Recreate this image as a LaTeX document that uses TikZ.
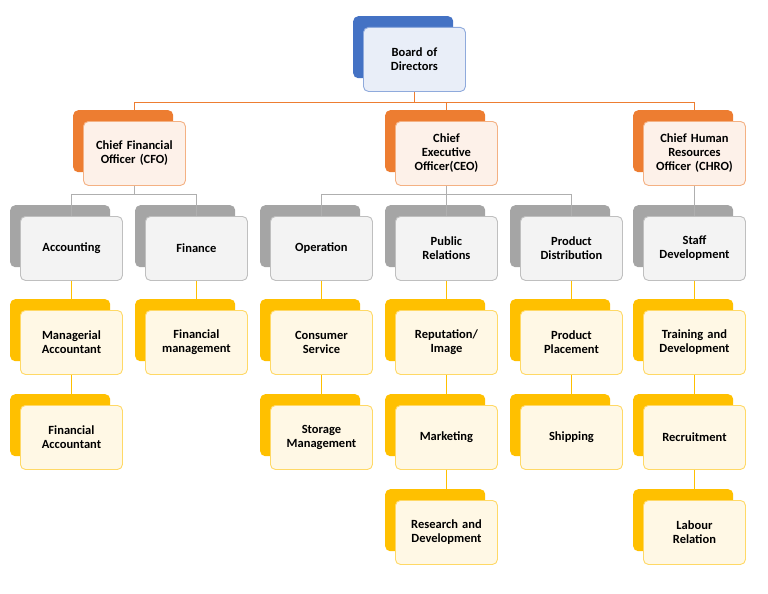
\documentclass[tikz,border=0pt]{standalone}
\usepackage{fontspec}
\setmainfont{Carlito}
\begin{document}
\begin{tikzpicture}[x=1pt,y=-1pt,
  font=\fontsize{12.5}{14}\selectfont\bfseries,
  back/.style={rounded corners=5pt,minimum width=100pt,minimum height=62pt,anchor=north west,inner sep=0pt},
  front/.style={rounded corners=5pt,minimum width=102pt,minimum height=64pt,anchor=north west,align=center,text width=96pt,inner sep=0pt,line width=0.9pt},
  bl/.style={back,fill=blue!60!cyan!40!black!0,fill={rgb,255:red,68;green,114;blue,196}},
  blf/.style={front,draw={rgb,255:red,143;green,170;blue,220},fill={rgb,255:red,233;green,238;blue,248}},
  ob/.style={back,fill={rgb,255:red,237;green,125;blue,49}},
  obf/.style={front,draw={rgb,255:red,244;green,177;blue,131},fill={rgb,255:red,253;green,241;blue,233}},
  gb/.style={back,fill={rgb,255:red,165;green,165;blue,165}},
  gbf/.style={front,draw={rgb,255:red,191;green,191;blue,191},fill={rgb,255:red,243;green,243;blue,243}},
  yb/.style={back,fill={rgb,255:red,255;green,192;blue,0}},
  ybf/.style={front,draw={rgb,255:red,255;green,217;blue,102},fill={rgb,255:red,255;green,248;blue,229}},
  oline/.style={draw={rgb,255:red,237;green,125;blue,49},line width=0.8pt},
  gline/.style={draw={rgb,255:red,175;green,175;blue,175},line width=0.8pt},
  yline/.style={draw={rgb,255:red,255;green,192;blue,0},line width=0.8pt}]
\useasboundingbox (0,0) rectangle (768,594);
\newcommand{\obox}[5]{\node[#1] (#2b) at (#3,#4) {};\node[#1f] (#2) at (#3+10,#4+11) {#5};}
\obox{bl}{board}{353}{16}{Board of\\Directors}
\obox{ob}{cfo}{73}{110}{Chief Financial\\Officer (CFO)}
\obox{ob}{ceo}{385}{110}{Chief\\Executive\\Officer(CEO)}
\obox{ob}{chro}{633}{110}{Chief Human\\Resources\\Officer (CHRO)}
\obox{gb}{acc}{10}{205}{Accounting}
\obox{gb}{fin}{135}{205}{Finance}
\obox{gb}{ope}{260}{205}{Operation}
\obox{gb}{pr}{385}{205}{Public\\Relations}
\obox{gb}{pd}{510}{205}{Product\\Distribution}
\obox{gb}{sd}{633}{205}{Staff\\Development}
\obox{yb}{ma}{10}{299}{Managerial\\Accountant}
\obox{yb}{fa}{10}{394}{Financial\\Accountant}
\obox{yb}{fm}{135}{299}{Financial\\management}
\obox{yb}{cs}{260}{299}{Consumer\\Service}
\obox{yb}{sm}{260}{394}{Storage\\Management}
\obox{yb}{ri}{385}{299}{Reputation/\\Image}
\obox{yb}{mk}{385}{394}{Marketing}
\obox{yb}{rd}{385}{489}{Research and\\Development}
\obox{yb}{pp}{510}{299}{Product\\Placement}
\obox{yb}{sh}{510}{394}{Shipping}
\obox{yb}{td}{633}{299}{Training and\\Development}
\obox{yb}{rc}{633}{394}{Recruitment}
\obox{yb}{lr}{633}{489}{Labour\\Relation}
\draw[oline] (board.south) -- ++(0,10) coordinate (h1);
\draw[oline] (h1) -| (cfo.north);
\draw[oline] (h1) -| (ceo.north);
\draw[oline] (h1) -| (chro.north);
\draw[gline] (cfo.south) -- ++(0,8) coordinate (h2);
\draw[gline] (h2) -| (acc.north);
\draw[gline] (h2) -| (fin.north);
\draw[gline] (ceo.south) -- ++(0,8) coordinate (h3);
\draw[gline] (h3) -| (ope.north);
\draw[gline] (h3) -- (pr.north);
\draw[gline] (h3) -| (pd.north);
\draw[gline] (chro.south) -- (sd.north);
\draw[yline] (acc.south) -- (ma.north);
\draw[yline] (ma.south) -- (fa.north);
\draw[yline] (fin.south) -- (fm.north);
\draw[yline] (ope.south) -- (cs.north);
\draw[yline] (cs.south) -- (sm.north);
\draw[yline] (pr.south) -- (ri.north);
\draw[yline] (ri.south) -- (mk.north);
\draw[yline] (mk.south) -- (rd.north);
\draw[yline] (pd.south) -- (pp.north);
\draw[yline] (pp.south) -- (sh.north);
\draw[yline] (sd.south) -- (td.north);
\draw[yline] (td.south) -- (rc.north);
\draw[yline] (rc.south) -- (lr.north);
\end{tikzpicture}
\end{document}
